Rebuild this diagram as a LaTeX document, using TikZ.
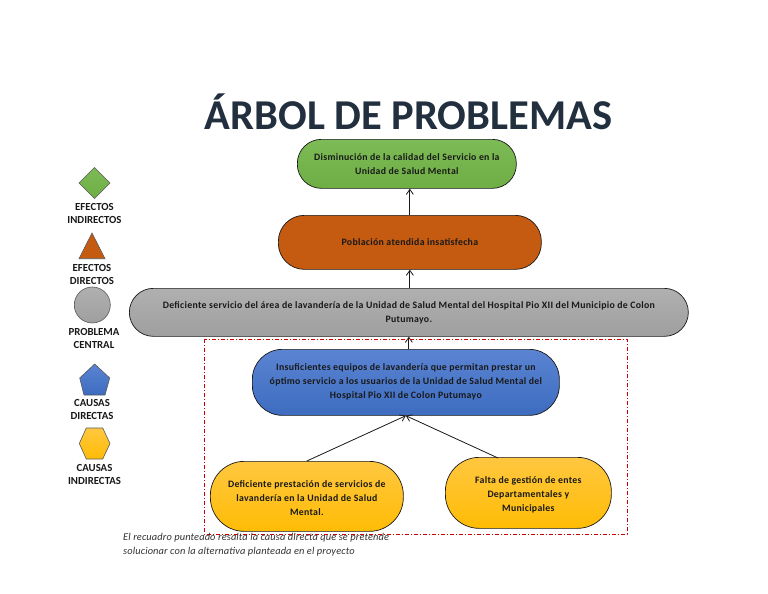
\documentclass[tikz,border=0pt]{standalone}
\usepackage{fontspec}
\setmainfont{Carlito}
\usetikzlibrary{arrows.meta,calc}
\definecolor{gA}{HTML}{7CBB55}\definecolor{gB}{HTML}{6FAE45}
\definecolor{oA}{HTML}{C55A11}
\definecolor{grA}{HTML}{B0B0B0}\definecolor{grB}{HTML}{9F9F9F}
\definecolor{bA}{HTML}{5B84D2}\definecolor{bB}{HTML}{3D6CC0}
\definecolor{yA}{HTML}{FFC740}\definecolor{yB}{HTML}{FFBC05}
\definecolor{titlecol}{HTML}{222F3E}
\tikzset{
  pill/.style={draw=black!90,line width=0.7pt,rounded corners=#1,align=center,font=\fontsize{9.8}{14}\selectfont\bfseries\addfontfeature{LetterSpace=3.1},text=black!90,anchor=north west,inner sep=0pt},
  conn/.style={draw=black!90,line width=0.8pt,-{Straight Barb[length=5pt,width=7pt]}},
  leglab/.style={align=center,font=\fontsize{10.8}{13.2}\selectfont\bfseries,text=black!90},
  shp/.style={draw=black!65,line width=0.6pt}
}
\begin{document}
\begin{tikzpicture}[x=1pt,y=-1pt]
\useasboundingbox[fill=white] (0,0) rectangle (768,594);
\node[font=\fontsize{42.5}{46}\selectfont\bfseries,text=titlecol] (title) at (408.5,112) {ÁRBOL DE PROBLEMAS};
\node[pill=24pt,top color=gA,bottom color=gB,minimum width=219pt,minimum height=49pt] (green) at (297,139) {Disminución de la calidad del Servicio en la\\Unidad de Salud Mental};
\node[pill=26pt,fill=oA,minimum width=263pt,minimum height=54pt] (orange) at (278,215) {Población atendida insatisfecha};
\node[pill=24pt,top color=grA,bottom color=grB,minimum width=559pt,minimum height=48pt] (gray) at (129,288) {Deficiente servicio del área de lavandería de la Unidad de Salud Mental del Hospital Pio XII del Municipio de Colon\\Putumayo.};
\node[pill=30pt,top color=bA,bottom color=bB,minimum width=307pt,minimum height=66pt] (blue) at (252,349) {Insuficientes equipos de lavandería que permitan prestar un\\óptimo servicio a los usuarios de la Unidad de Salud Mental del\\Hospital Pio XII de Colon Putumayo\\[-11pt]};
\node[pill=34pt,top color=yA,bottom color=yB,minimum width=193pt,minimum height=70pt] (yone) at (210,461) {\rule{0pt}{10pt}Deficiente prestación de servicios de\\lavandería en la Unidad de Salud\\Mental.};
\node[pill=34pt,top color=yA,bottom color=yB,minimum width=166pt,minimum height=71pt] (ytwo) at (445,457) {\rule{0pt}{10pt}Falta de gestión de entes\\Departamentales y\\Municipales};
\coordinate (ytwoout) at (498,458);
\draw[conn] (orange.north) -- (orange.north |- green.south);
\draw[conn] (gray.north -| orange.north) -- (orange.south);
\draw[conn] (blue.north -| gray.north) -- (gray.south);
\draw[conn] (yone.north) -- (blue.south);
\draw[conn] (ytwoout) -- (blue.south);
\draw[draw=red!80!black,line width=0.7pt,dash pattern=on 4pt off 2pt on 1pt off 2pt] (204,339) rectangle (627,534);
\node[anchor=north west,align=left,font=\fontsize{10.4}{14.4}\selectfont\itshape\addfontfeature{LetterSpace=1.2},text=black!80,inner sep=0pt] (note) at (123,533) {El recuadro punteado resalta la causa directa que se pretende\\solucionar con la alternativa planteada en el proyecto};
% legend
\path[shp,top color=gA,bottom color=gB] (94.5,167.5) -- (110,183) -- (94.5,198.5) -- (79,183) -- cycle;
\path[shp,fill=oA] (92,233) -- (105,258.7) -- (79,258.7) -- cycle;
\path[shp,top color=grA,bottom color=grB] (92.3,305) circle (18);
\path[shp,top color=bA,bottom color=bB] (94.7,364) -- (109.7,378) -- (105,395) -- (84,395) -- (79.7,378) -- cycle;
\path[shp,top color=yA,bottom color=yB] (86.3,428) -- (102.7,428) -- (110,443.5) -- (102.7,459) -- (86.3,459) -- (79.3,443.5) -- cycle;
\node[leglab] (l1) at (94.5,213.5) {EFECTOS\\INDIRECTOS};
\node[leglab] (l2) at (92,274.5) {EFECTOS\\DIRECTOS};
\node[leglab] (l3) at (94,338.5) {PROBLEMA\\CENTRAL};
\node[leglab] (l4) at (92,409.5) {CAUSAS\\DIRECTAS};
\node[leglab] (l5) at (94.5,474.5) {CAUSAS\\INDIRECTAS};
\end{tikzpicture}
\end{document}
